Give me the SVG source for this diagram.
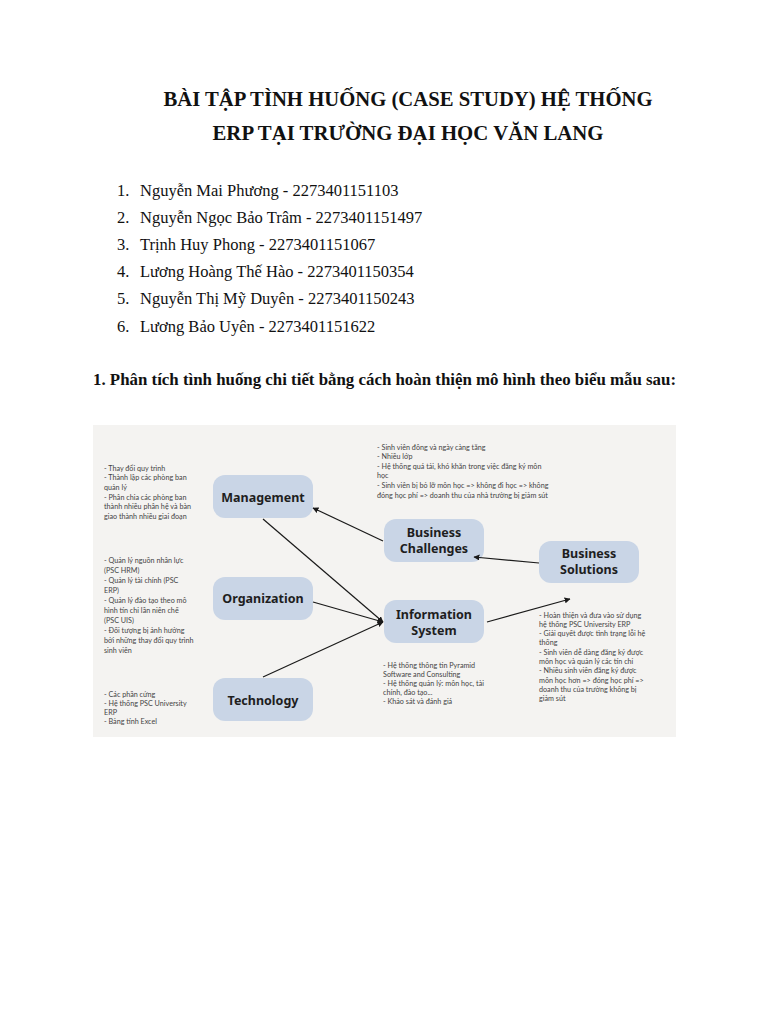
<svg xmlns="http://www.w3.org/2000/svg" width="768" height="1024" viewBox="0 0 768 1024">
<style>
.title{font-family:"Liberation Serif","Times New Roman",serif;font-weight:bold;font-size:20.5px;fill:#111;text-anchor:middle}
.list{font-family:"Liberation Serif","Times New Roman",serif;font-size:16.5px;fill:#111}
.head{font-family:"Liberation Serif","Times New Roman",serif;font-weight:bold;font-size:17px;fill:#111}
.node rect{fill:#c9d5e6}
.lbl{font-family:"Noto Sans",sans-serif;font-weight:bold;font-size:12.5px;fill:#1e1e1e;text-anchor:middle}
.note{font-family:Lato,"Noto Sans",sans-serif;font-size:7.2px;fill:#444}
.conn line{stroke:#1a1a1a;stroke-width:1.2;marker-end:url(#ah)}
</style>
<defs>
<marker id="ah" viewBox="0 0 10 10" refX="9" refY="5" markerWidth="6" markerHeight="6" markerUnits="userSpaceOnUse" orient="auto">
<path d="M0,0 L10,5 L0,10 z" fill="#1a1a1a"/>
</marker>
</defs>
<rect width="768" height="1024" fill="#ffffff"/>
<text class="title" x="408" y="106" textLength="489" lengthAdjust="spacingAndGlyphs">BÀI TẬP TÌNH HUỐNG (CASE STUDY) HỆ THỐNG</text>
<text class="title" x="408" y="140" textLength="391" lengthAdjust="spacingAndGlyphs">ERP TẠI TRƯỜNG ĐẠI HỌC VĂN LANG</text>
<g class="list">
<text x="117" y="196">1.</text><text x="140" y="196">Nguyễn Mai Phương - 2273401151103</text>
<text x="117" y="223">2.</text><text x="140" y="223">Nguyễn Ngọc Bảo Trâm - 2273401151497</text>
<text x="117" y="250">3.</text><text x="140" y="250">Trịnh Huy Phong - 2273401151067</text>
<text x="117" y="277">4.</text><text x="140" y="277">Lương Hoàng Thế Hào - 2273401150354</text>
<text x="117" y="304">5.</text><text x="140" y="304">Nguyễn Thị Mỹ Duyên - 2273401150243</text>
<text x="117" y="332">6.</text><text x="140" y="332">Lương Bảo Uyên - 2273401151622</text>
</g>
<text class="head" x="93" y="385" textLength="583" lengthAdjust="spacingAndGlyphs">1. Phân tích tình huống chi tiết bằng cách hoàn thiện mô hình theo biểu mẫu sau:</text>
<rect x="93" y="425" width="583" height="312" fill="#f4f3f1"/>
<g id="management" class="node"><rect x="213" y="475" width="100" height="43" rx="12"/><text class="lbl" x="263" y="502">Management</text></g>
<g id="organization" class="node"><rect x="213" y="577" width="100" height="43" rx="12"/><text class="lbl" x="263" y="603">Organization</text></g>
<g id="technology" class="node"><rect x="213" y="678" width="100" height="43" rx="12"/><text class="lbl" x="263" y="705">Technology</text></g>
<g id="information-system" class="node"><rect x="384" y="600" width="100" height="43" rx="12"/><text class="lbl" x="434" y="619">Information</text><text class="lbl" x="434" y="635">System</text></g>
<g id="business-challenges" class="node"><rect x="384" y="519" width="100" height="43" rx="12"/><text class="lbl" x="434" y="537">Business</text><text class="lbl" x="434" y="553">Challenges</text></g>
<g id="business-solutions" class="node"><rect x="539" y="541" width="100" height="42" rx="12"/><text class="lbl" x="589" y="558">Business</text><text class="lbl" x="589" y="574">Solutions</text></g>
<g class="conn">
<line x1="383" y1="541" x2="313" y2="508"/>
<line x1="539" y1="563" x2="474" y2="557"/>
<line x1="263" y1="519" x2="383" y2="622"/>
<line x1="313" y1="602" x2="383" y2="622"/>
<line x1="263" y1="677" x2="383" y2="622"/>
<line x1="487" y1="622" x2="570" y2="599"/>
</g>
<g id="notes-management" class="note">
<text x="104" y="470.5">- Thay đổi quy trình</text>
<text x="104" y="480.2">- Thành lập các phòng ban</text>
<text x="104" y="489.9">quản lý</text>
<text x="104" y="499.6">- Phân chia các phòng ban</text>
<text x="104" y="509.3">thành nhiều phân hệ và bàn</text>
<text x="104" y="519">giao thành nhiều giai đoạn</text>
</g>
<g id="notes-organization" class="note">
<text x="104" y="562.5">- Quản lý nguồn nhân lực</text>
<text x="104" y="572.5">(PSC HRM)</text>
<text x="104" y="582.5">- Quản lý tài chính (PSC</text>
<text x="104" y="592.5">ERP)</text>
<text x="104" y="602.5">- Quản lý đào tạo theo mô</text>
<text x="104" y="612.5">hình tín chỉ lần niên chế</text>
<text x="104" y="622.5">(PSC UIS)</text>
<text x="104" y="632.5">- Đối tượng bị ảnh hưởng</text>
<text x="104" y="642.5">bởi những thay đổi quy trình</text>
<text x="104" y="652.5">sinh viên</text>
</g>
<g id="notes-technology" class="note">
<text x="104" y="696.5">- Các phần cứng</text>
<text x="104" y="705.8">- Hệ thống PSC University</text>
<text x="104" y="715.1">ERP</text>
<text x="104" y="724.4">- Bảng tính Excel</text>
</g>
<g id="notes-challenges" class="note">
<text x="377" y="449.5">- Sinh viên đông và ngày càng tăng</text>
<text x="377" y="459.1">- Nhiều lớp</text>
<text x="377" y="468.7">- Hệ thống quá tải, khó khăn trong việc đăng ký môn</text>
<text x="377" y="478.3">học</text>
<text x="377" y="487.9">- Sinh viên bị bỏ lỡ môn học =&gt; không đi học =&gt; không</text>
<text x="377" y="497.5">đóng học phí =&gt; doanh thu của nhà trường bị giảm sút</text>
</g>
<g id="notes-information-system" class="note">
<text x="383" y="667.5">- Hệ thống thông tin Pyramid</text>
<text x="383" y="676.5">Software and Consulting</text>
<text x="383" y="685.5">- Hệ thống quản lý: môn học, tài</text>
<text x="383" y="694.5">chính, đào tạo...</text>
<text x="383" y="703.5">- Khảo sát và đánh giá</text>
</g>
<g id="notes-solutions" class="note">
<text x="539" y="617.5">- Hoàn thiện và đưa vào sử dụng</text>
<text x="539" y="626.8">hệ thống PSC University ERP</text>
<text x="539" y="636.1">- Giải quyết được tình trạng lỗi hệ</text>
<text x="539" y="645.4">thống</text>
<text x="539" y="654.7">- Sinh viên dễ dàng đăng ký được</text>
<text x="539" y="664">môn học và quản lý các tín chỉ</text>
<text x="539" y="673.3">- Nhiều sinh viên đăng ký được</text>
<text x="539" y="682.6">môn học hơn =&gt; đóng học phí =&gt;</text>
<text x="539" y="691.9">doanh thu của trường không bị</text>
<text x="539" y="701.2">giảm sút</text>
</g>
</svg>
